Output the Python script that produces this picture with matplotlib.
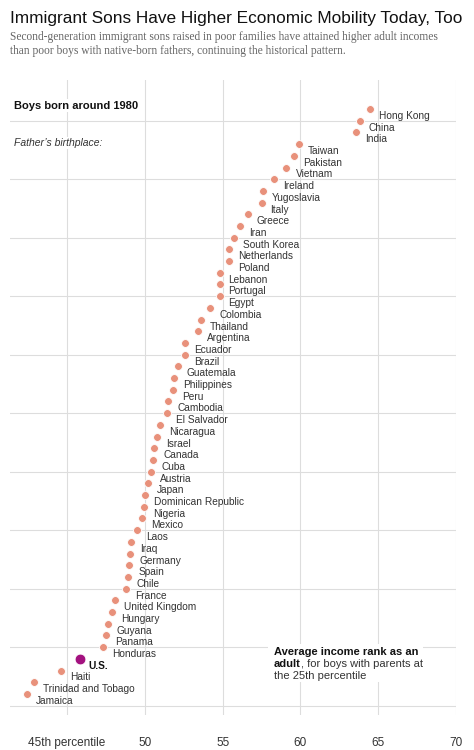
import matplotlib
matplotlib.use("Agg")
import matplotlib.pyplot as plt
from matplotlib.patches import Rectangle

countries = ["Hong Kong","China","India","Taiwan","Pakistan","Vietnam","Ireland","Yugoslavia","Italy","Greece",
 "Iran","South Korea","Netherlands","Poland","Lebanon","Portugal","Egypt","Colombia","Thailand","Argentina",
 "Ecuador","Brazil","Guatemala","Philippines","Peru","Cambodia","El Salvador","Nicaragua","Israel","Canada",
 "Cuba","Austria","Japan","Dominican Republic","Nigeria","Mexico","Laos","Iraq","Germany","Spain",
 "Chile","France","United Kingdom","Hungary","Guyana","Panama","Honduras","U.S.","Haiti","Trinidad and Tobago","Jamaica"]
ranks = [64.5,63.8,63.6,59.9,59.6,59.1,58.3,57.6,57.5,56.6,
 56.1,55.7,55.4,55.4,54.8,54.8,54.8,54.2,53.6,53.4,
 52.6,52.6,52.1,51.9,51.8,51.5,51.4,51.0,50.8,50.6,
 50.5,50.4,50.2,50.0,49.95,49.8,49.5,49.1,49.05,49.0,
 48.9,48.8,48.1,47.9,47.6,47.5,47.3,45.8,44.6,42.9,42.4]
xticks = [45,50,55,60,65,70]
xticklabels = ["45th percentile","50","55","60","65","70"]

W,H = 474,750
FF = "Liberation Sans"
fig = plt.figure(figsize=(W/100,H/100),dpi=100)
ax = fig.add_axes([10/W,(H-715)/H,446/W,635/H])
ax.set_xlim(41.33,70)
ax.set_ylim(51.8,-2.48)
for s in ax.spines.values(): s.set_visible(False)
ax.set_yticks([])
ax.set_xticks(xticks)
ax.set_xticklabels(xticklabels,fontsize=8.5,color="#333333",family=FF)
ax.tick_params(axis="x",length=0,pad=16)
for x in xticks:
    ax.axvline(x,color="#dddddd",lw=0.8,zorder=0)
for r in range(1,52,5):
    ax.axhline(r,color="#dddddd",lw=0.8,zorder=0)

for i,(c,v) in enumerate(zip(countries,ranks)):
    us = c=="U.S."
    ax.scatter([v],[i],s=60 if us else 32,color="#a3117f" if us else "#e8917b",edgecolor="white",linewidth=0.6,zorder=3)
    ax.annotate(c,(v,i),xytext=(6.5,-5),textcoords="offset points",fontsize=7.3,
                fontweight="bold" if us else "normal",color="#111111" if us else "#333333",
                va="center",ha="left",family=FF,zorder=4)

fig.text(10/W,1-18/H,"Immigrant Sons Have Higher Economic Mobility Today, Too",fontsize=12.4,
         family=FF,color="#111111",va="center",ha="left")
fig.text(10/W,1-44/H,"Second-generation immigrant sons raised in poor families have attained higher adult incomes\nthan poor boys with native-born fathers, continuing the historical pattern.",
         fontsize=8.3,family="Liberation Serif",color="#666666",va="center",ha="left",linespacing=1.3)
ax.text(41.6,-0.3,"Boys born around 1980",fontsize=8,fontweight="bold",family=FF,color="#111111",va="center",
        bbox=dict(facecolor="white",edgecolor="none",pad=1))
ax.text(41.6,2.9,"Father\u2019s birthplace:",fontsize=7.5,style="italic",family=FF,color="#333333",va="center",
        bbox=dict(facecolor="white",edgecolor="none",pad=1))
ax.add_patch(Rectangle((57.9,45.7),10.0,3.3,facecolor="white",edgecolor="none",zorder=1))
t1 = ax.text(58.3,46.4,"Average income rank as an",fontsize=8,fontweight="bold",family=FF,color="#111111",va="center",zorder=2)
t2 = ax.text(58.3,47.45,"adult",fontsize=8,fontweight="bold",family=FF,color="#111111",va="center",zorder=2)
ax.annotate(", for boys with parents at",xy=(1,0.5),xycoords=t2,va="center",ha="left",fontsize=8,family=FF,color="#333333",zorder=2)
ax.text(58.3,48.5,"the 25th percentile",fontsize=8,family=FF,color="#333333",va="center",zorder=2)
fig.savefig("out.png",dpi=100,facecolor="white")
